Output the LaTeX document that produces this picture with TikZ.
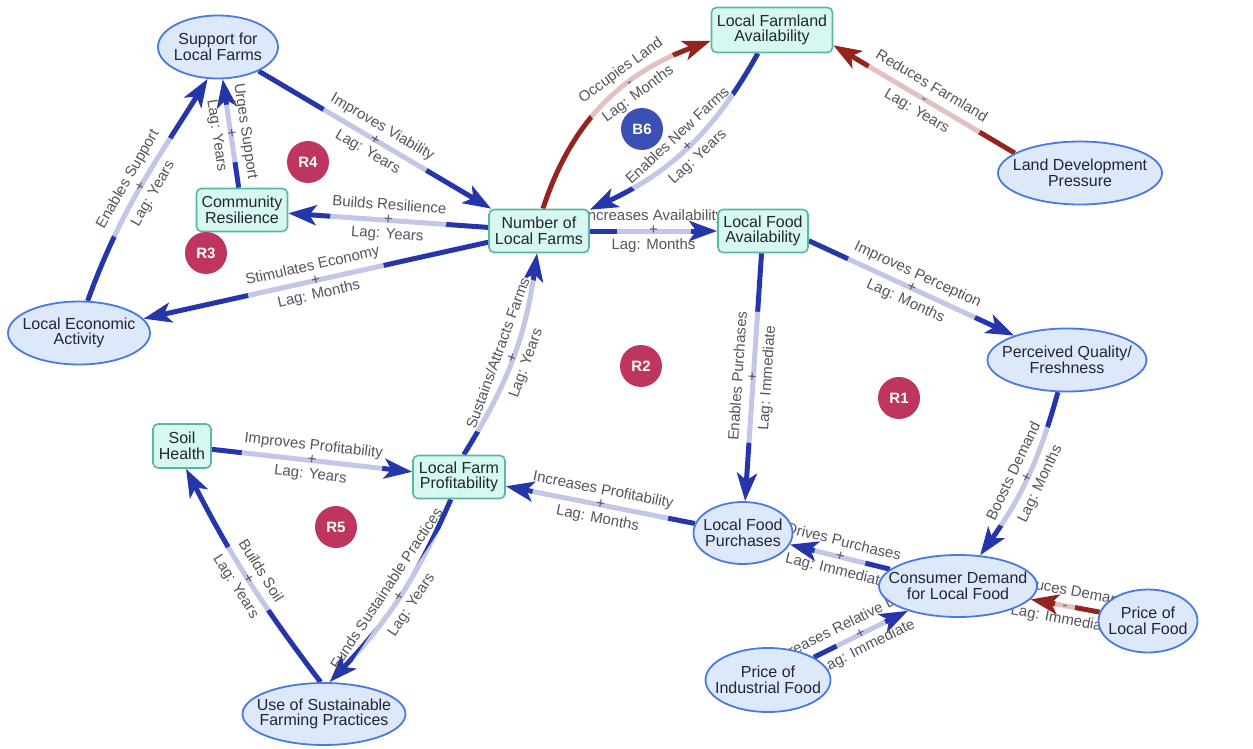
\documentclass[tikz,border=0pt]{standalone}
\usepackage{fontspec}
\setmainfont{Liberation Sans}
\usetikzlibrary{shapes.geometric,arrows.meta}
\pgfdeclarelayer{bg}
\pgfsetlayers{bg,main}
\definecolor{eblue}{RGB}{36,54,170}
\definecolor{ered}{RGB}{150,36,30}
\definecolor{ellfill}{RGB}{221,232,250}
\definecolor{elldraw}{RGB}{72,122,225}
\definecolor{boxfill}{RGB}{214,248,241}
\definecolor{boxdraw}{RGB}{88,184,163}
\definecolor{ntext}{RGB}{35,38,48}
\definecolor{ltext}{RGB}{85,85,90}
\definecolor{rbadge}{RGB}{190,54,95}
\definecolor{bbadge}{RGB}{58,80,180}
\tikzset{
 ell/.style={ellipse, draw=elldraw, fill=ellfill, line width=1.8pt, inner xsep=-15pt, inner ysep=0pt, align=center, text=ntext, font=\fontsize{16}{15.5}\selectfont},
 box/.style={rectangle, rounded corners=5pt, draw=boxdraw, fill=boxfill, line width=1.6pt, inner sep=1pt, align=center, text=ntext, font=\fontsize{16}{15.5}\selectfont},
 eb/.style={draw=eblue, line width=5pt, -{Stealth[length=28pt,width=20pt,inset=7pt]}},
 er/.style={eb, draw=ered},
 lbl/.style={sloped, midway, align=center, text=ltext, font=\fontsize{15}{14.5}\selectfont, fill=white, fill opacity=0.72, text opacity=1, inner sep=1pt},
 strip/.style={sloped, midway, fill=white, fill opacity=0.72, minimum width=#1, minimum height=7pt, inner sep=0pt},
 badge/.style={circle, minimum size=42pt, inner sep=0pt, text=white, font=\bfseries\fontsize{15}{15}\selectfont},
}
\begin{document}
\begin{tikzpicture}[x=1pt,y=1pt]
\useasboundingbox (0,0) rectangle (1253,-749);
\begin{pgfonlayer}{bg}
\fill[white] (0,0) rectangle (1253,-749);
\end{pgfonlayer}
% nodes
\node[ell, minimum width=120pt, minimum height=63pt] (sup) at (218,-47) {Support for\\Local Farms};
\node[box, minimum width=91pt, minimum height=43pt] (cr) at (242,-210) {Community\\Resilience};
\node[ell, minimum width=142pt, minimum height=63pt] (lea) at (79,-333) {Local Economic\\Activity};
\node[box, minimum width=100pt, minimum height=43pt] (num) at (539,-231) {Number of\\Local Farms};
\node[box, minimum width=121pt, minimum height=45pt] (farm) at (772,-30) {Local Farmland\\Availability};
\node[box, minimum width=90pt, minimum height=43pt] (lfa) at (763,-231) {Local Food\\Availability};
\node[ell, minimum width=164pt, minimum height=63pt] (ldp) at (1080,-173) {Land Development\\Pressure};
\node[ell, minimum width=159pt, minimum height=63pt] (pq) at (1067,-360) {Perceived Quality/\\Freshness};
\node[box, minimum width=58pt, minimum height=44pt] (soil) at (182,-446) {Soil\\Health};
\node[box, minimum width=92pt, minimum height=43pt] (prof) at (459,-477) {Local Farm\\Profitability};
\node[ell, minimum width=163pt, minimum height=62pt] (usfp) at (324,-714) {Use of Sustainable\\Farming Practices};
\node[ell, minimum width=99pt, minimum height=62pt] (lfp) at (743,-533) {Local Food\\Purchases};
\node[ell, minimum width=158pt, minimum height=62pt] (cd) at (958,-586) {Consumer Demand\\for Local Food};
\node[ell, minimum width=99pt, minimum height=63pt] (plf) at (1148,-621) {Price of\\Local Food};
\node[ell, minimum width=125pt, minimum height=64pt] (pif) at (768,-680) {Price of\\Industrial Food};
% edges
\begin{pgfonlayer}{bg}
\draw[eb] (sup) -- node[lbl]{Improves Viability\\+\\Lag: Years} (num.155);
\draw[eb] (num) -- node[lbl]{Builds Resilience\\+\\Lag: Years} (cr);
\draw[eb] (num) -- node[lbl]{Stimulates Economy\\+\\Lag: Months} (lea);
\draw[eb] (cr) -- node[strip=58pt]{} node[lbl,fill=none]{Urges Support\\+\\Lag: Years} (sup);
\draw[eb] (lea.75) to[out=70,in=238] node[lbl]{Enables Support\\+\\Lag: Years} (sup.252);
\draw[er] (num.80) to[out=72,in=200] node[lbl,pos=0.64]{Occupies Land\\-\\Lag: Months} (farm.190);
\draw[eb] (farm) to[bend left=18] node[lbl]{Enables New Farms\\+\\Lag: Years} (num);
\draw[er] (ldp.163) -- node[lbl]{Reduces Farmland\\-\\Lag: Years} (farm.-14);
\draw[eb] (num) -- node[strip=74pt]{} node[lbl,fill=none]{Increases Availability\\+\\Lag: Months} (lfa);
\draw[eb] (lfa.-12) -- node[lbl]{Improves Perception\\+\\Lag: Months} (pq);
\draw[eb] (pq) to[bend left=10] node[lbl]{Boosts Demand\\+\\Lag: Months} (cd);
\draw[eb] (cd) -- node[strip=52pt]{} node[lbl,fill=none]{Drives Purchases\\+\\Lag: Immediate} (lfp);
\draw[eb] (lfa) -- node[lbl]{Enables Purchases\\+\\Lag: Immediate} (lfp);
\draw[eb] (lfp) -- node[strip=138pt]{} node[lbl,fill=none]{Increases Profitability\\+\\Lag: Months} (prof);
\draw[eb] (prof.78) to[bend right=12] node[lbl]{Sustains/Attracts Farms\\+\\Lag: Years} (num.265);
\draw[eb] (soil) -- node[lbl]{Improves Profitability\\+\\Lag: Years} (prof);
\draw[eb] (prof.250) to[bend left=10] node[strip=158pt]{} node[lbl,fill=none]{Funds Sustainable Practices\\+\\Lag: Years} (usfp.80);
\draw[eb] (usfp.96) to[bend left=5] node[lbl]{Builds Soil\\+\\Lag: Years} (soil.280);
\draw[eb] (pif) -- node[strip=54pt]{} node[lbl,fill=none]{Increases Relative Demand\\+\\Lag: Immediate} (cd);
\draw[er] (plf) -- node[strip=20pt]{} node[lbl,fill=none]{Reduces Demand\\-\\Lag: Immediate} (cd);
\end{pgfonlayer}
% loop badges
\node[badge, fill=rbadge] (r4) at (308,-162) {R4};
\node[badge, fill=rbadge] (r3) at (206,-253) {R3};
\node[badge, fill=bbadge] (b6) at (642,-129) {B6};
\node[badge, fill=rbadge] (r2) at (641,-366) {R2};
\node[badge, fill=rbadge] (r1) at (899,-398) {R1};
\node[badge, fill=rbadge] (r5) at (336,-527) {R5};
\end{tikzpicture}
\end{document}
